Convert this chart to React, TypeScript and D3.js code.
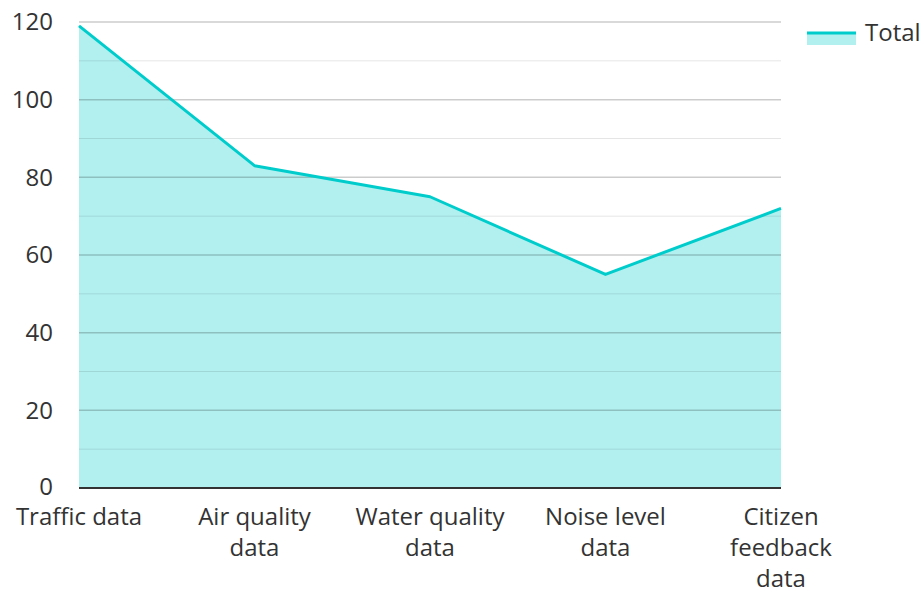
import React, { useEffect, useRef } from "react";
import * as d3 from "d3";

const categories = [
  ["Traffic data"],
  ["Air quality", "data"],
  ["Water quality", "data"],
  ["Noise level", "data"],
  ["Citizen", "feedback", "data"],
];
const totals = [119, 83, 75, 55, 72];
const yTicks = [0, 20, 40, 60, 80, 100, 120];
const minorTicks = [10, 30, 50, 70, 90, 110];
const seriesName = "Total";

export default function App() {
  const ref = useRef<SVGSVGElement>(null);

  useEffect(() => {
    const svg = d3.select(ref.current);
    svg.selectAll("*").remove();

    const margin = { top: 22, left: 79, right: 142, bottom: 104 };
    const width = 923;
    const height = 592;
    const font = "'Open Sans', 'Noto Sans', sans-serif";
    const fs = 24;

    const x = d3
      .scalePoint<number>()
      .domain(d3.range(totals.length))
      .range([margin.left, width - margin.right]);
    const y = d3
      .scaleLinear()
      .domain([0, 120])
      .range([height - margin.bottom, margin.top]);

    const data = totals.map((v, i) => ({ i, v }));

    // area under the line
    const area = d3
      .area<{ i: number; v: number }>()
      .x((d) => x(d.i)!)
      .y0(y(0))
      .y1((d) => y(d.v));
    svg
      .append("path")
      .datum(data)
      .attr("d", area)
      .attr("fill", "rgba(0,204,204,0.3)");

    // grid lines over the fill
    svg
      .append("g")
      .selectAll("line")
      .data(minorTicks)
      .join("line")
      .attr("x1", margin.left)
      .attr("x2", width - margin.right)
      .attr("y1", (d) => y(d))
      .attr("y2", (d) => y(d))
      .attr("stroke", "rgba(0,0,0,0.1)")
      .attr("stroke-width", 1);

    svg
      .append("g")
      .selectAll("line")
      .data(yTicks.filter((t) => t > 0))
      .join("line")
      .attr("x1", margin.left)
      .attr("x2", width - margin.right)
      .attr("y1", (d) => y(d))
      .attr("y2", (d) => y(d))
      .attr("stroke", "rgba(0,0,0,0.2)")
      .attr("stroke-width", 1.5);

    // line
    const line = d3
      .line<{ i: number; v: number }>()
      .x((d) => x(d.i)!)
      .y((d) => y(d.v));
    svg
      .append("path")
      .datum(data)
      .attr("d", line)
      .attr("fill", "none")
      .attr("stroke", "#00cccc")
      .attr("stroke-width", 3)
      .attr("stroke-linejoin", "round");

    // x axis line
    svg
      .append("line")
      .attr("x1", margin.left)
      .attr("x2", width - margin.right)
      .attr("y1", y(0))
      .attr("y2", y(0))
      .attr("stroke", "#333")
      .attr("stroke-width", 2);

    // y tick labels
    svg
      .append("g")
      .selectAll("text")
      .data(yTicks)
      .join("text")
      .attr("x", 53)
      .attr("y", (d) => y(d) - (d === 0 ? 1 : 0))
      .attr("dy", "0.35em")
      .attr("text-anchor", "end")
      .attr("font-family", font)
      .attr("font-size", fs)
      .attr("fill", "#333")
      .text((d) => d);

    // x labels
    const xl = svg
      .append("g")
      .selectAll("text")
      .data(categories)
      .join("text")
      .attr("text-anchor", "middle")
      .attr("font-family", font)
      .attr("font-size", fs)
      .attr("fill", "#333");
    xl.each(function (lines, i) {
      d3.select(this)
        .selectAll("tspan")
        .data(lines)
        .join("tspan")
        .attr("x", x(i)!)
        .attr("y", (_, j) => 525 + j * 31)
        .text((d) => d);
    });

    // legend
    const lg = svg.append("g");
    lg.append("rect")
      .attr("x", 807)
      .attr("y", 33)
      .attr("width", 49)
      .attr("height", 12)
      .attr("fill", "rgba(0,204,204,0.3)");
    lg.append("line")
      .attr("x1", 807)
      .attr("x2", 856)
      .attr("y1", 33)
      .attr("y2", 33)
      .attr("stroke", "#00cccc")
      .attr("stroke-width", 3);
    lg.append("text")
      .attr("x", 865)
      .attr("y", 33)
      .attr("dy", "0.35em")
      .attr("font-family", font)
      .attr("font-size", fs)
      .attr("fill", "#333")
      .text(seriesName);
  }, []);

  return (
    <svg
      ref={ref}
      width={923}
      height={592}
      style={{ position: "absolute", left: 0, top: 0, background: "#fff" }}
    />
  );
}
